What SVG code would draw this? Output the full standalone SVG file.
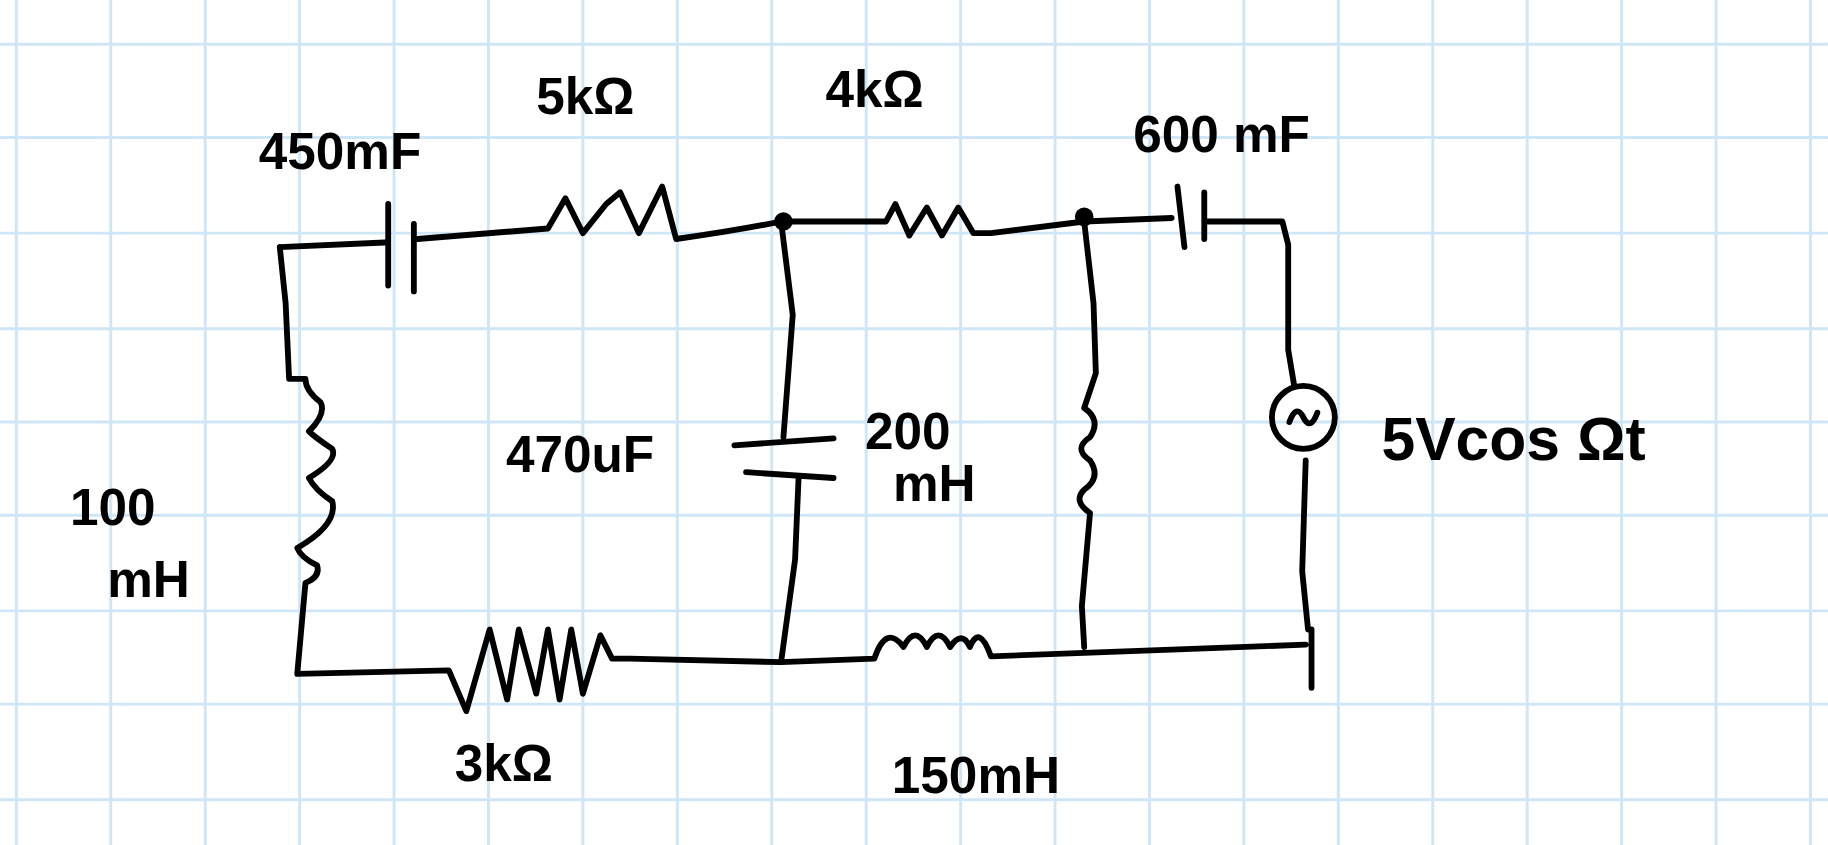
<svg xmlns="http://www.w3.org/2000/svg" width="1828" height="845" viewBox="0 0 1828 845">
<style>
.g{stroke:#cfe6f7;stroke-width:2.5}
.w{fill:none;stroke:#000;stroke-width:5;stroke-linecap:round;stroke-linejoin:round}
.t{font-family:"Liberation Sans",sans-serif;font-size:44px;font-weight:bold;fill:#000}
</style>
<rect width="1828" height="845" fill="#fff"/>
<g transform="scale(1.1658)">
<g id="grid">
<path class="g" d="M14 0V726M95 0V726M176 0V726M257 0V726M338 0V726M419 0V726M500 0V726M581 0V726M662 0V726M743 0V726M824 0V726M905 0V726M986 0V726M1067 0V726M1148 0V726M1229 0V726M1310 0V726M1391 0V726M1472 0V726M1553 0V726"/>
<path class="g" d="M0 38H1568M0 118H1568M0 200H1568M0 282H1568M0 362H1568M0 442H1568M0 524H1568M0 604H1568M0 686H1568"/>
</g>
<g id="connectors">
<path class="w" d="M240 212L330 208M333 175V245M355 192V250M358 205Q420 200 470 196L485 170L500 200L520 175L532 165L548 200L568 160L580 205Q630 198 670 190L760 190L768 175L780 202L795 178L808 202L822 178L835 200L850 200L930 190L1005 187M1010 160L1016 212M1033 165V205M1035 190H1100L1105 210V300L1110 330"/>
<circle class="w" cx="1118" cy="358" r="27"/>
<path class="w" d="M1106 362Q1112 346 1118 358T1130 354"/>
<path class="w" d="M1120 395L1117 490L1122 540M1125 540V590M1120 553L930 560L850 563Q840 535 832 555Q825 540 815 555Q805 535 795 555Q785 535 775 555Q760 535 750 565L670 568L540 565L525 565L515 545L500 595L490 540L480 600L470 540L460 595L445 540L435 600L420 540L400 610L385 575L255 578L262 500Q275 495 272 485Q258 478 255 470Q290 450 285 430Q270 420 265 410Q290 395 285 385Q270 375 265 370Q280 355 275 345Q262 335 262 325H248L245 260L240 212"/>
<path class="w" d="M670 190L680 270L672 375M630 382L715 376M640 405L715 410M685 410L682 480L670 568"/>
<path class="w" d="M930 190L938 260L940 320L930 350Q945 360 935 375Q920 385 935 395Q945 410 930 420Q920 430 935 440L928 520L930 555"/>
<circle cx="672" cy="190" r="8"/>
<circle cx="930" cy="186" r="8"/>
</g>
<g id="labels">
<text class="t" x="222" y="145">450mF</text>
<text class="t" x="460" y="98">5kΩ</text>
<text class="t" x="708" y="92">4kΩ</text>
<text class="t" x="972" y="130">600 mF</text>
<text class="t" x="60" y="450">100</text>
<text class="t" x="92" y="512">mH</text>
<text class="t" x="434" y="405">470uF</text>
<text class="t" x="742" y="385">200</text>
<text class="t" x="766" y="430">mH</text>
<text class="t" x="1185" y="395" style="font-size:52px">5Vcos Ωt</text>
<text class="t" x="390" y="670">3kΩ</text>
<text class="t" x="765" y="680">150mH</text>
</g>
</g>
</svg>
